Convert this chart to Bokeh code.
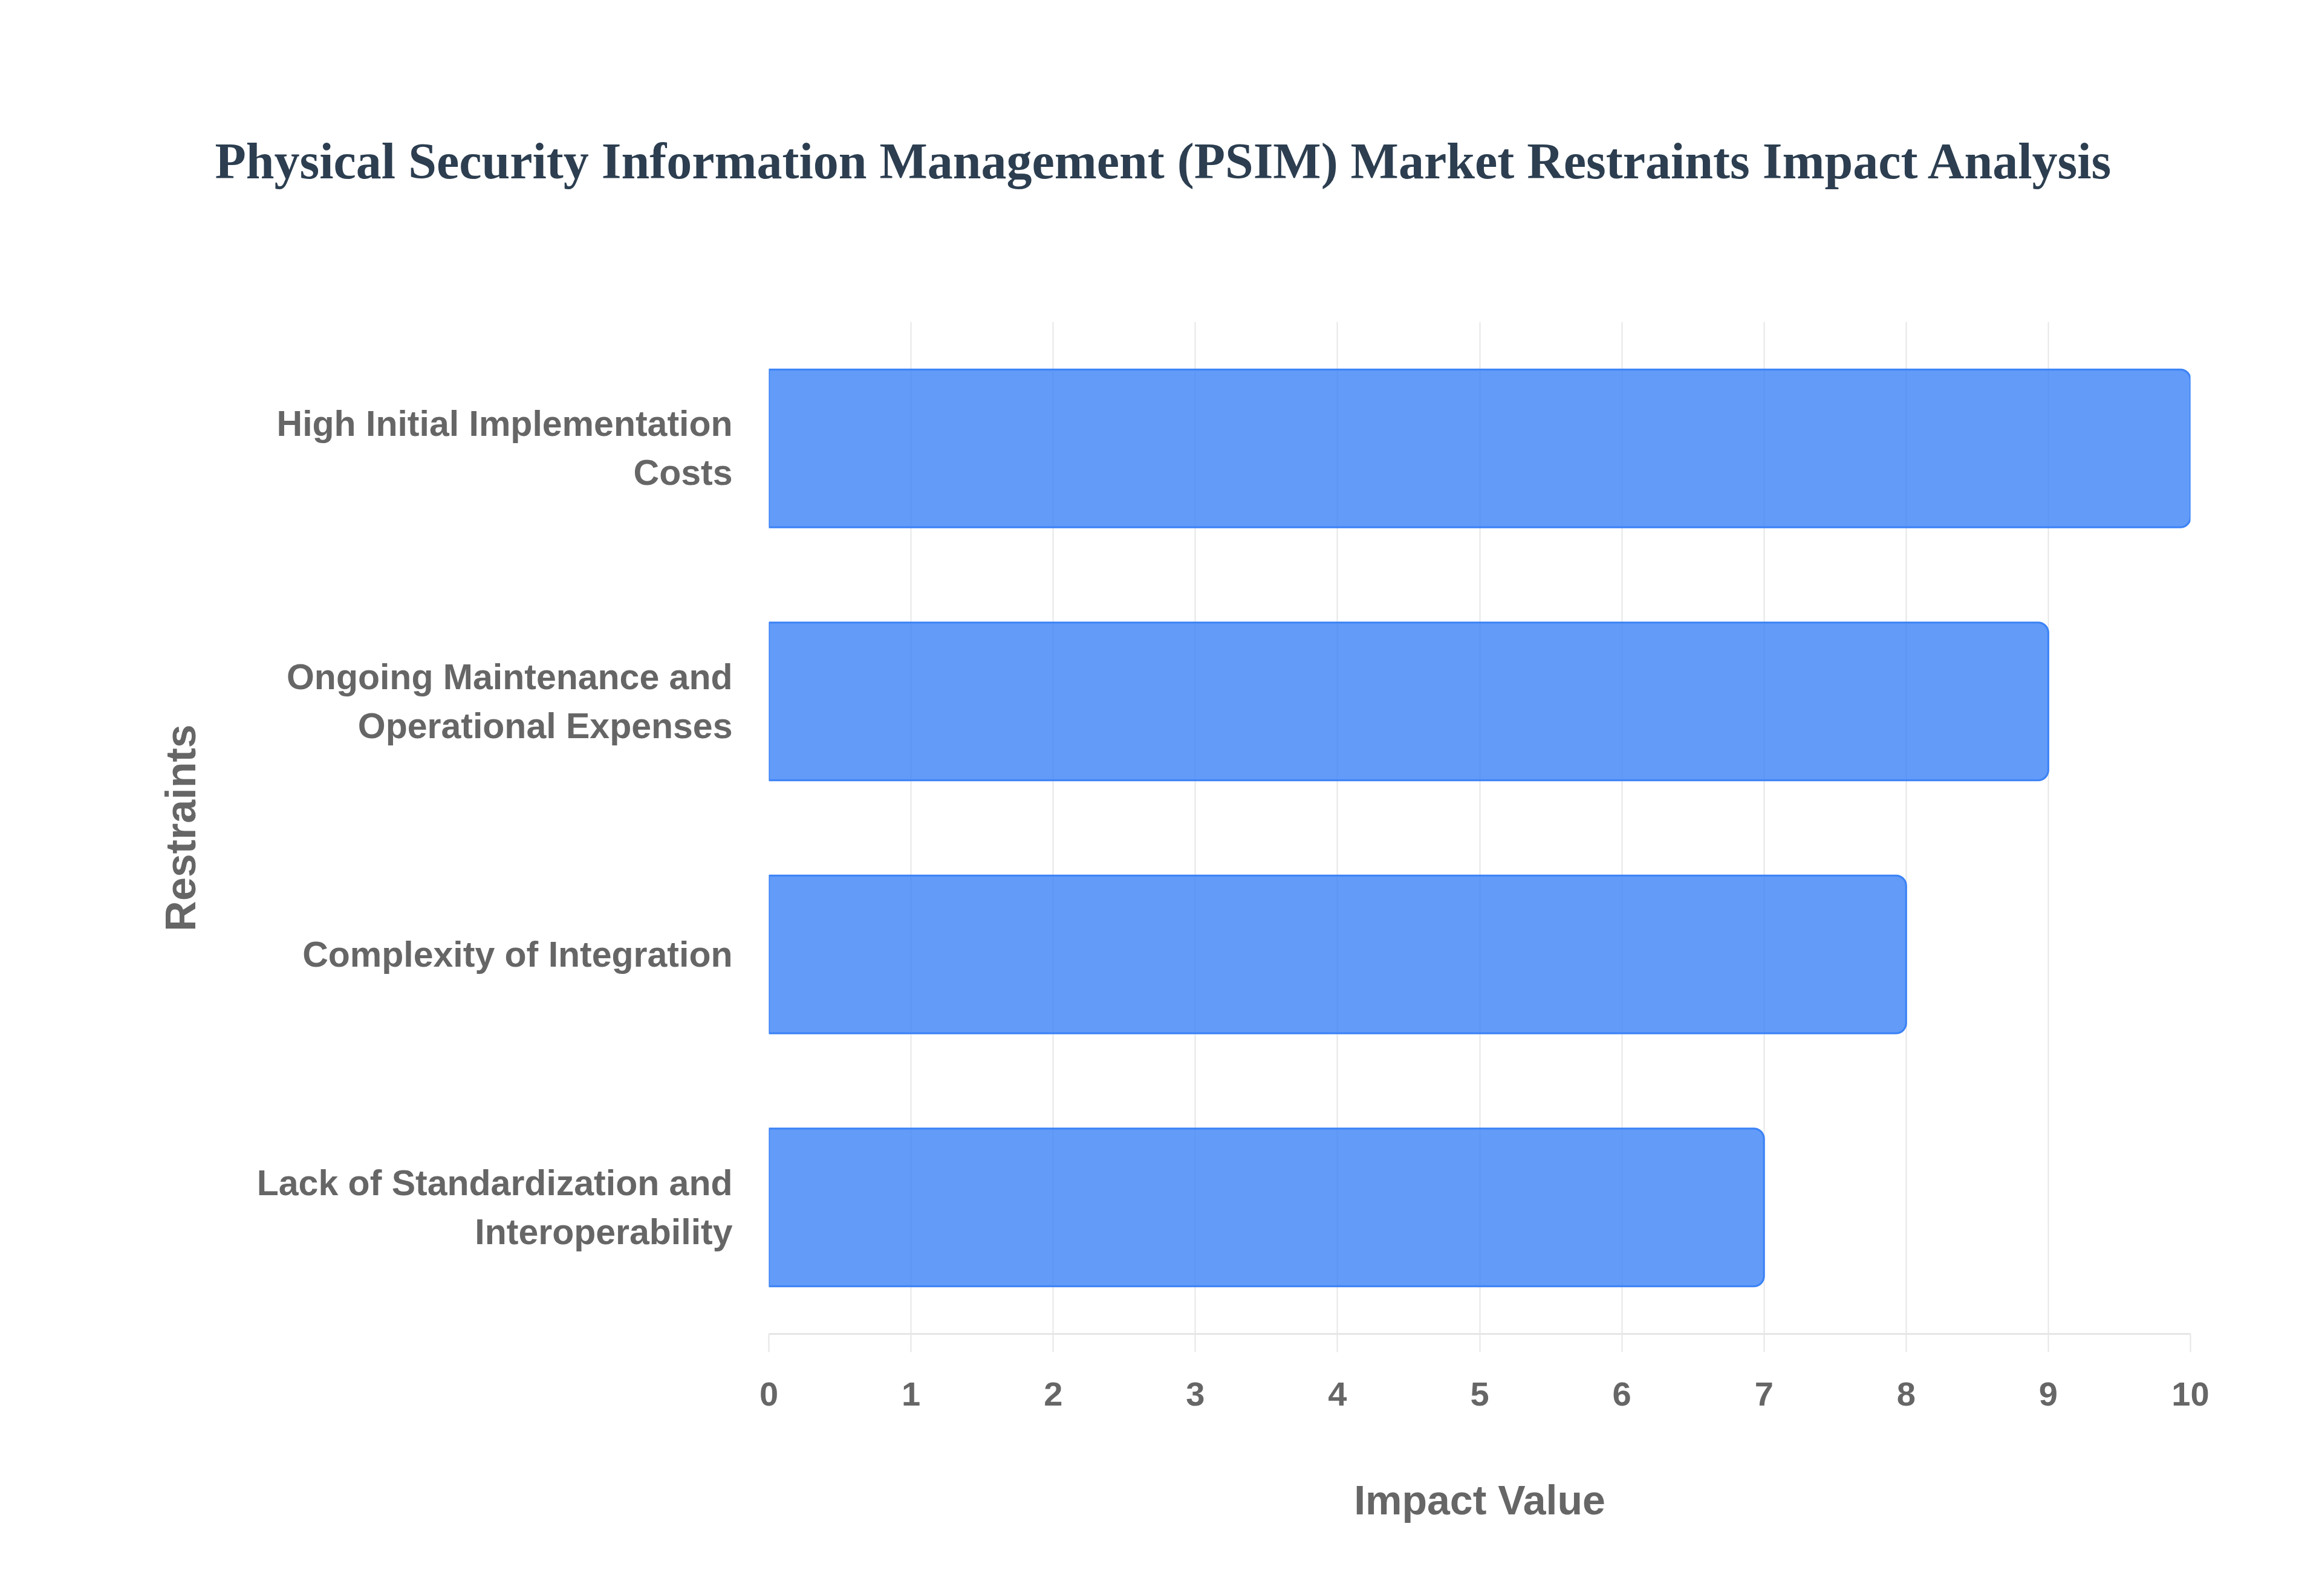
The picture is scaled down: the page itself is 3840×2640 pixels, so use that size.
from bokeh.plotting import figure
from bokeh.models import FactorRange, Range1d, Title, FixedTicker
from bokeh.embed import file_html
from bokeh.resources import INLINE

categories = [
    "High Initial Implementation\nCosts",
    "Ongoing Maintenance and\nOperational Expenses",
    "Complexity of Integration",
    "Lack of Standardization and\nInteroperability",
]
impact_values = [10, 9, 8, 7]
x_ticks = [0, 1, 2, 3, 4, 5, 6, 7, 8, 9, 10]

title_text = "Physical Security Information Management (PSIM) Market Restraints Impact Analysis"

W, H = 3824, 2624
FL, FT, FW, FH = 1271, 532, 2351, 1674

p = figure(
    width=W, height=H,
    y_range=FactorRange(factors=list(reversed(categories)), range_padding=0),
    x_range=Range1d(0, 10),
    output_backend="svg", toolbar_location=None,
    min_border_left=FL, min_border_top=FT,
    min_border_right=W - FL - FW, min_border_bottom=H - FT - FH,
)
p.outline_line_color = None
p.background_fill_color = "white"
p.border_fill_color = "white"

p.hbar(
    y=categories, right=impact_values, left=0, height=0.624,
    fill_color="#3b82f6", fill_alpha=0.8,
    line_color="#3b82f6", line_width=3,
    border_radius=(0, 17, 17, 0),
)

# x axis
xa = p.xaxis[0]
xa.ticker = FixedTicker(ticks=x_ticks)
xa.minor_tick_line_color = None
xa.major_tick_line_color = "#e6e6e6"
xa.major_tick_line_width = 2
xa.major_tick_out = 30
xa.major_tick_in = 0
xa.axis_line_color = "#e6e6e6"
xa.axis_line_width = 3
xa.major_label_text_font = "Liberation Sans"
xa.major_label_text_font_style = "bold"
xa.major_label_text_font_size = "56px"
xa.major_label_text_color = "#666666"
xa.major_label_standoff = 50
xa.axis_label = "Impact Value"
xa.axis_label_text_font = "Liberation Sans"
xa.axis_label_text_font_style = "bold"
xa.axis_label_text_font_size = "68px"
xa.axis_label_text_color = "#666666"
xa.axis_label_standoff = 115

# y axis
ya = p.yaxis[0]
ya.axis_line_color = None
ya.major_tick_line_color = None
ya.minor_tick_line_color = None
ya.major_label_text_font = "Liberation Sans"
ya.major_label_text_font_style = "bold"
ya.major_label_text_font_size = "59px"
ya.major_label_text_color = "#666666"
ya.major_label_text_line_height = 1.22
ya.major_label_standoff = 54
ya.axis_label = "Restraints"
ya.axis_label_text_font = "Liberation Sans"
ya.axis_label_text_font_style = "bold"
ya.axis_label_text_font_size = "70px"
ya.axis_label_text_color = "#666666"
ya.axis_label_standoff = 84

p.xgrid.grid_line_color = "#e6e6e6"
p.xgrid.grid_line_width = 2
p.ygrid.grid_line_color = None

title = Title(
    text=title_text, align="left", vertical_align="top",
    offset=-916, standoff=436,
    text_font="Liberation Serif", text_font_style="bold",
    text_font_size="84px", text_color="#2c3e50",
)
p.add_layout(title, "above")

open("out.html", "w").write(file_html(p, INLINE))
